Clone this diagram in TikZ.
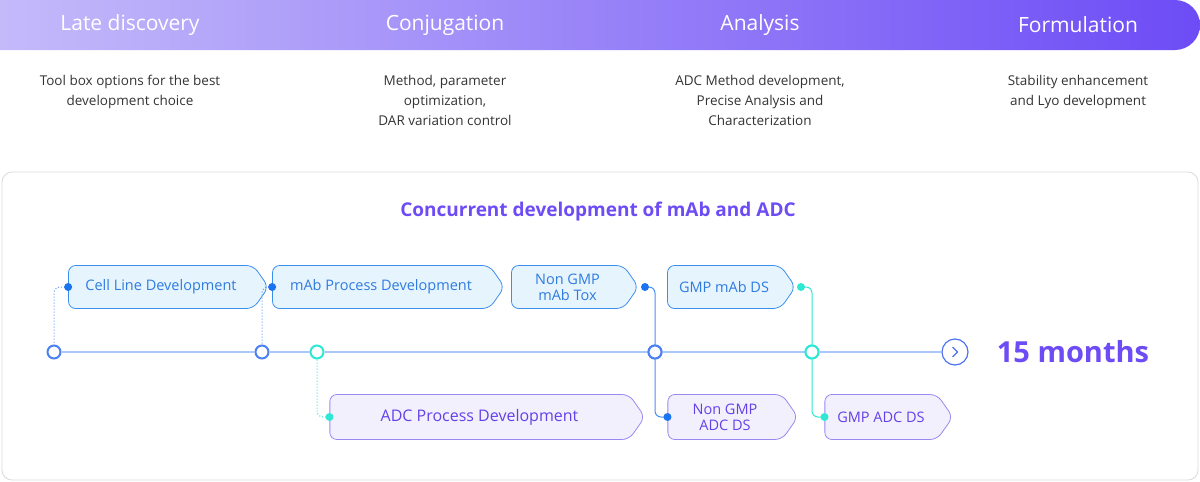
\documentclass[tikz,border=0pt]{standalone}
\usepackage{fontspec}
\setmainfont{Open Sans}
\usetikzlibrary{shapes.symbols}
\definecolor{hdrL}{HTML}{C4BAFA}
\definecolor{hdrR}{HTML}{6D4CF6}
\definecolor{tbl}{HTML}{3A8EF0}
\definecolor{tblf}{HTML}{E6F4FE}
\definecolor{tbt}{HTML}{2F7BE0}
\definecolor{pur}{HTML}{9B88F0}
\definecolor{purf}{HTML}{F2F0FD}
\definecolor{purt}{HTML}{6440E8}
\definecolor{cy}{HTML}{2EE8D4}
\definecolor{bl}{HTML}{1A73F0}
\definecolor{tl}{HTML}{A9C8F8}
\definecolor{circ}{HTML}{4A80F0}
\definecolor{txt}{HTML}{333333}
\begin{document}
\begin{tikzpicture}[x=1pt,y=-1pt,
  tag/.style={signal, signal to=east, signal pointer angle=110, rounded corners=7pt, line width=0.8pt, inner sep=0pt, font=\fontsize{14.5}{16}\selectfont, align=center},
  top/.style={tag, draw=tbl, fill=tblf, text=tbt, minimum height=43pt},
  bot/.style={tag, draw=pur, fill=purf, text=purt, minimum height=45pt},
  hd/.style={text=white, font=\fontsize{21}{24}\selectfont},
  desc/.style={text=txt, align=center, font=\fontsize{13.5}{20}\selectfont},
  oc/.style={circle, draw=#1, fill=white, line width=2pt, minimum size=13pt, inner sep=0pt},
  dot/.style={circle, fill=#1, minimum size=8pt, inner sep=0pt}]
\useasboundingbox (0,0) rectangle (1200,482);
\begin{scope}[y=1pt]
\shade[left color=hdrL, right color=hdrR] (0,0) -- (0,-50) -- (1175,-50) arc[start angle=-90,end angle=90,radius=25] -- cycle;
\end{scope}
\node[hd] (h1) at (130,25) {Late discovery};
\node[hd] (h2) at (445,25) {Conjugation};
\node[hd] (h3) at (760,25) {Analysis};
\node[hd] (h4) at (1078,25) {Formulation};
\node[desc, anchor=north] (d1) at (130,72) {Tool box options for the best\\development choice};
\node[desc, anchor=north] (d2) at (445,72) {Method, parameter\\optimization,\\DAR variation control};
\node[desc, anchor=north] (d3) at (760,72) {ADC Method development,\\Precise Analysis and\\Characterization};
\node[desc, anchor=north] (d4) at (1078,72) {Stability enhancement\\and Lyo development};
\draw[draw=black!15, line width=0.8pt, rounded corners=10pt] (2,172) rectangle (1198,480);
\node[text=hdrR, font=\fontsize{19}{22}\selectfont\bfseries] (title) at (598,212) {Concurrent development of mAb and ADC};
% timeline
\node[oc=circ] (c1) at (54,352) {};
\node[oc=circ] (c2) at (262,352) {};
\node[oc=cy] (c3) at (317,352) {};
\node[oc=circ] (c4) at (655,352) {};
\node[oc=cy] (c5) at (812,352) {};
\node[circle, draw=circ!80!purt, line width=1.2pt, minimum size=26pt, inner sep=0pt] (end) at (955,352) {};
\draw[tl, line width=1.2pt] (c1) -- (c2) -- (c3) -- (c4) -- (c5) -- (end);
\draw[circ!80!purt, line width=1.2pt] ([xshift=-2.5pt,yshift=5pt]end.center) -- ([xshift=2.5pt]end.center) -- ([xshift=-2.5pt,yshift=-5pt]end.center);
\node[text=hdrR, font=\fontsize{29}{32}\selectfont\bfseries] (m) at (1073,352) {15 months};
% boxes
\node[top, minimum width=200pt] (b1) at (161,287) {Cell Line Development};
\node[top, minimum width=232pt] (b2) at (381,287) {mAb Process Development};
\node[top, minimum width=127pt] (b3) at (567.5,287) {Non GMP\\mAb Tox};
\node[top, minimum width=128pt] (b4) at (724,287) {GMP mAb DS};
\node[bot, minimum width=315pt, font=\fontsize{16}{18}\selectfont] (a1) at (479.5,417) {ADC Process Development};
\node[bot, minimum width=130pt] (a2) at (725,417) {Non GMP\\ADC DS};
\node[bot, minimum width=128pt] (a3) at (881,417) {GMP ADC DS};
% connectors
\draw[bl!70, dotted, line width=1pt, rounded corners=6pt] (b1.west) -- (54,287) -- (c1);
\draw[bl!70, dotted, line width=1pt, rounded corners=6pt] (b2.west) -- (262,287) -- (c2);
\draw[cy, dotted, line width=1pt, rounded corners=6pt] (c3) -- (317,417) -- (a1.west);
\coordinate (p3) at (645,287);
\coordinate (p4) at (801,287);
\draw[bl!80, line width=1pt, rounded corners=6pt] (p3) -- (655,287) -- (c4) -- (655,417) -- (a2.west);
\draw[cy, line width=1pt, rounded corners=6pt] (p4) -- (812,287) -- (c5) -- (812,417) -- (a3.west);
\node[oc=circ] at (c4) {};
\node[oc=cy] at (c5) {};
\node[dot=bl] at (b1.west) {};
\node[dot=bl] at (b2.west) {};
\node[dot=cy] at (a1.west) {};
\node[dot=bl] at (p3) {};
\node[dot=cy] at (p4) {};
\node[dot=bl] at (a2.west) {};
\node[dot=cy] at (a3.west) {};
\end{tikzpicture}
\end{document}
